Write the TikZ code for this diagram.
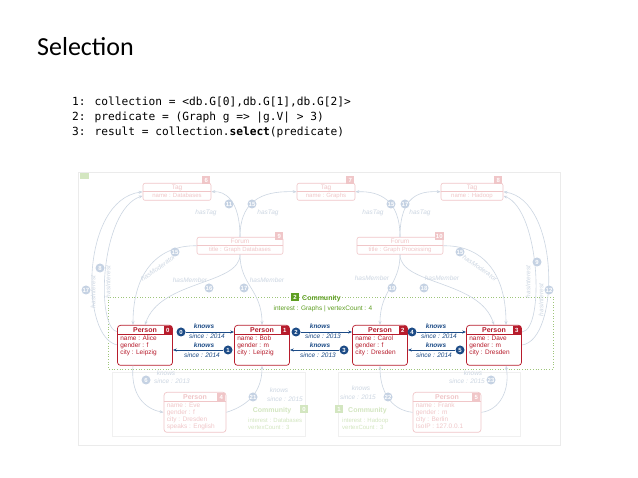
\documentclass[tikz,border=0pt]{standalone}
\usepackage{fontspec}
\setmainfont{Liberation Sans}
\newfontfamily\titlefont{Carlito}
\newfontfamily\codefont{DejaVu Sans Mono}
\usetikzlibrary{arrows.meta,calc}
\definecolor{pr}{HTML}{B71C2C}
\definecolor{prf}{HTML}{F0C6C8}
\definecolor{bl}{HTML}{1C4B86}
\definecolor{blf}{HTML}{C5D2E3}
\definecolor{gr}{HTML}{5E9E22}
\definecolor{grf}{HTML}{D3E6C0}
\definecolor{ln}{HTML}{CCD6E2}
\tikzset{
 pbox/.style={draw=#1,rounded corners=3pt,line width=0.7pt,fill=white,minimum width=55pt,minimum height=40pt,inner sep=0pt},
 idbox/.style={fill=#1,text=white,font=\bfseries\fontsize{6}{6}\selectfont,inner sep=1pt,minimum size=8pt},
 ecirc/.style={circle,fill=#1,text=white,font=\bfseries\fontsize{6}{6}\selectfont,inner sep=0pt,minimum size=9pt},
 earrow/.style={draw=bl,line width=0.7pt,-{Stealth[length=4pt]}},
 faintarr/.style={draw=ln,line width=0.6pt,-{Stealth[length=4pt]}},
 elab/.style={text=bl,font=\itshape\fontsize{6.5}{6.5}\selectfont,inner sep=0pt},
 klab/.style={text=bl,font=\bfseries\itshape\fontsize{6.5}{6.5}\selectfont,inner sep=0pt},
 flab/.style={text=ln,font=\itshape\fontsize{6.5}{6.5}\selectfont,inner sep=0pt},
}
\newcommand\mkperson[7]{%
 \node[pbox=#6,minimum width=#7pt,anchor=north] (#1) at (#2,#3) {};
 \node[anchor=north,text=#6,font=\bfseries\fontsize{7}{7}\selectfont,inner sep=1pt] at ([yshift=-1pt]#1.north) {Person};
 \node[anchor=north west,align=left,text=#6,font=\fontsize{6.5}{7}\selectfont,inner sep=0pt] at ([xshift=3pt,yshift=-11pt]#1.north west) {#5};
 \draw[#6,line width=0.5pt] ([yshift=-9.5pt]#1.north west)--([yshift=-9.5pt]#1.north east);
 \node[idbox=#6] at ([xshift=-5pt,yshift=-5pt]#1.north east) {#4};}
\newcommand\mkbox[7]{%
 \node[draw=#6,rounded corners=2pt,line width=0.6pt,minimum width=#7pt,minimum height=17pt,anchor=north,inner sep=0pt] (#1) at (#2,#3) {};
 \node[anchor=north,text=#6,font=\fontsize{6.5}{6.5}\selectfont,inner sep=0pt] at ([yshift=-2pt]#1.north) {#4};
 \node[anchor=north,text=#6,font=\fontsize{6}{6}\selectfont,inner sep=0pt] at ([yshift=-10pt]#1.north) {#5};
 \draw[#6,line width=0.4pt] ([yshift=-8.5pt]#1.north west)--([yshift=-8.5pt]#1.north east);}
\begin{document}
\begin{tikzpicture}[x=1pt,y=-1pt]
\useasboundingbox[fill=white] (0,0) rectangle (638,478);
\node[anchor=west,font=\titlefont\fontsize{26}{26}\selectfont,inner sep=0pt] (title) at (37,47) {Selection};
\node[anchor=north west,align=left,font=\codefont\fontsize{11.2}{15}\selectfont,inner sep=0pt] (code) at (72,97)
 {1: collection = <db.G[0],db.G[1],db.G[2]>\\2: predicate = (Graph g => |g.V| > 3)\\3: result = collection.\textbf{select}(predicate)};
% frames
\draw[draw=black!8,line width=0.5pt] (78,172) rectangle (560,445);
\node[fill=grf,minimum width=9pt,minimum height=6pt,inner sep=0pt] (g13) at (84,176) {};
\draw[draw=black!6] (112,372) rectangle (305,436);
\draw[draw=black!6] (338,372) rectangle (520,436);
\draw[gr!60,dotted,line width=0.7pt] (108,297) rectangle (553,369);
\node[idbox=gr] (c2) at (295,297) {2};
\node[anchor=west,text=gr,font=\bfseries\fontsize{7}{7}\selectfont,inner sep=0pt] at (302,299) {Community};
\node[text=gr,font=\fontsize{6.5}{6.5}\selectfont,inner sep=0pt] at (323,309) {interest : Graphs | vertexCount : 4};
% tags and forums
\mkbox{t6}{177}{183}{Tag}{name : Databases}{prf}{68}
\node[idbox=prf] at ([xshift=-5pt,yshift=3pt]t6.north east) {6};
\mkbox{t7}{326}{183}{Tag}{name : Graphs}{prf}{58}
\node[idbox=prf] at ([xshift=-5pt,yshift=3pt]t7.north east) {7};
\mkbox{t8}{472}{183}{Tag}{name : Hadoop}{prf}{62}
\node[idbox=prf] at ([xshift=-5pt,yshift=3pt]t8.north east) {8};
\mkbox{f9}{240}{237}{Forum}{title : Graph Databases}{prf}{86}
\node[idbox=prf] at ([xshift=-4pt,yshift=1pt]f9.north east) {9};
\mkbox{f10}{400}{237}{Forum}{title : Graph Processing}{prf}{86}
\node[idbox=prf] at ([xshift=-4pt,yshift=1pt]f10.north east) {10};
% faint edges: hasTag
\draw[faintarr] (f9.north) .. controls (240,200) and (225,191) .. (t6.east);
\draw[faintarr] (f9.north) .. controls (240,195) and (270,191) .. (t7.west);
\draw[faintarr] (f10.north) .. controls (400,200) and (380,191) .. (t7.east);
\draw[faintarr] (f10.north) .. controls (400,195) and (420,191) .. (t8.west);
\node[ecirc=blf] at (229,204) {11}; \node[ecirc=blf] at (252,204) {15};
\node[ecirc=blf] at (391,204) {15}; \node[ecirc=blf] at (405,204) {17};
\node[flab] at (206,213) {hasTag}; \node[flab] at (268,213) {hasTag};
\node[flab] at (373,213) {hasTag}; \node[flab] at (420,213) {hasTag};
% hasMember
\draw[faintarr] (f9.south) .. controls (240,285) and (160,280) .. (145,325);
\draw[faintarr] (f9.south) .. controls (240,285) and (262,290) .. (262,325);
\draw[faintarr] (f10.south) .. controls (400,285) and (380,290) .. (380,325);
\draw[faintarr] (f10.south) .. controls (400,285) and (480,280) .. (494,325);
\node[ecirc=blf] at (209,288) {16}; \node[ecirc=blf] at (244,288) {17};
\node[ecirc=blf] at (392,288) {19}; \node[ecirc=blf] at (424,288) {18};
\node[flab] at (190,280) {hasMember}; \node[flab] at (267,280) {hasMember};
\node[flab] at (372,278) {hasMember}; \node[flab] at (442,278) {hasMember};
% hasModerator
\draw[faintarr] (f9.west) .. controls (160,245) and (133,270) .. (133,325);
\draw[faintarr] (f10.east) .. controls (480,245) and (506,270) .. (506,325);
\node[ecirc=blf] at (175,252) {15}; \node[ecirc=blf] at (460,252) {15};
\node[flab,rotate=35] at (158,268) {hasModerator};
\node[flab,rotate=-35] at (480,268) {hasModerator};
% hasInterest
\draw[faintarr] (118,345) .. controls (80,340) and (80,200) .. (t6.west);
\draw[faintarr] (118,332) .. controls (95,330) and (100,210) .. ([yshift=-4pt]t6.west);
\draw[faintarr] (522,345) .. controls (560,340) and (560,200) .. (t8.east);
\draw[faintarr] (522,332) .. controls (545,330) and (540,210) .. ([yshift=-4pt]t8.east);
\node[ecirc=blf] at (86,290) {17}; \node[ecirc=blf] at (100,268) {8};
\node[ecirc=blf] at (549,290) {12}; \node[ecirc=blf] at (537,262) {9};
\node[flab,rotate=90] at (93,292) {hasInterest}; \node[flab,rotate=90] at (108,282) {hasInterest};
\node[flab,rotate=90] at (541,300) {hasInterest}; \node[flab,rotate=90] at (528,282) {hasInterest};
% persons
\mkperson{alice}{145}{325}{0}{name : Alice\\gender : f\\city : Leipzig}{pr}{55}
\mkperson{bob}{262}{325}{1}{name : Bob\\gender : m\\city : Leipzig}{pr}{55}
\mkperson{carol}{380}{325}{2}{name : Carol\\gender : f\\city : Dresden}{pr}{55}
\mkperson{dave}{494}{325}{3}{name : Dave\\gender : m\\city : Dresden}{pr}{55}
\mkperson{eve}{195}{392}{4}{name : Eve\\gender : f\\city : Dresden\\speaks : English}{prf}{62}
\mkperson{frank}{447}{392}{5}{name : Frank\\gender : m\\city : Berlin\\IsoIP : 127.0.0.1}{prf}{68}
% faint communities
\node[text=grf,font=\bfseries\fontsize{7}{7}\selectfont,inner sep=0pt] (c0) at (272,411) {Community};
\node[idbox=grf] at (304,409) {0};
\node[anchor=west,text=grf,font=\fontsize{6}{7}\selectfont,align=left,inner sep=0pt] at (248,424) {interest : Databases\\vertexCount : 3};
\node[idbox=grf] (c13i) at (339,409) {1};
\node[anchor=west,text=grf,font=\bfseries\fontsize{7}{7}\selectfont,inner sep=0pt] at (348,411) {Community};
\node[anchor=west,text=grf,font=\fontsize{6}{7}\selectfont,align=left,inner sep=0pt] at (342,424) {interest : Hadoop\\vertexCount : 3};
% knows faint
\draw[faintarr] ([xshift=-12pt]alice.south) .. controls (130,400) and (150,410) .. (eve.west);
\draw[faintarr] (eve.east) .. controls (250,405) and (262,390) .. (bob.south);
\draw[faintarr] (frank.west) .. controls (390,410) and (380,390) .. (carol.south);
\draw[faintarr] (frank.east) .. controls (500,410) and (510,390) .. ([xshift=12pt]dave.south);
\node[ecirc=blf] at (146,380) {6}; \node[ecirc=blf] at (253,397) {21};
\node[ecirc=blf] at (388,397) {22}; \node[ecirc=blf] at (491,380) {23};
\node[flab] at (166,373) {knows}; \node[flab] at (172,381) {since : 2013};
\node[flab] at (279,390) {knows}; \node[flab] at (285,399) {since : 2015};
\node[flab] at (361,388) {knows}; \node[flab] at (358,397) {since : 2015};
\node[flab] at (473,373) {knows}; \node[flab] at (467,381) {since : 2015};
% knows main
\foreach \a/\b/\ia/\ib/\ya/\yb/\xa/\xb/\m in {alice/bob/0/1/2014/2014/181/228/204, bob/carol/2/3/2013/2013/296/344/320, carol/dave/4/5/2014/2014/412/460/436}{
 \node[ecirc=bl] (k\ia) at (\xa,332) {\ia};
 \node[ecirc=bl] (k\ib) at (\xb,350) {\ib};
 \draw[earrow] (k\ia) -- (\b.west |- k\ia);
 \draw[earrow] (k\ib) -- (\a.east |- k\ib);
 \node[klab] at (\m,326.5) {knows};
 \node[elab] at (\m+3,336.5) {since : \ya};
 \node[klab] at (\m,345) {knows};
 \node[elab] at (\m-2,355) {since : \yb};
}
\end{tikzpicture}
\end{document}
